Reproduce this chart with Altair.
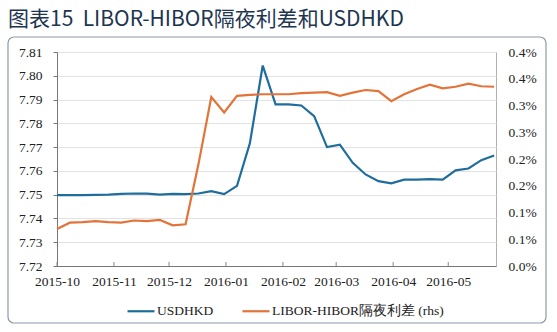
import altair as alt
import pandas as pd

title_text = "图表15\u00a0\u00a0LIBOR-HIBOR隔夜利差和USDHKD"

dates = [
    "2015-10-01", "2015-10-08", "2015-10-15", "2015-10-22", "2015-10-29",
    "2015-11-05", "2015-11-12", "2015-11-19", "2015-11-26",
    "2015-12-03", "2015-12-10", "2015-12-17", "2015-12-24", "2015-12-31",
    "2016-01-07", "2016-01-14", "2016-01-21", "2016-01-28",
    "2016-02-04", "2016-02-11", "2016-02-18", "2016-02-25",
    "2016-03-03", "2016-03-10", "2016-03-17", "2016-03-24", "2016-03-31",
    "2016-04-07", "2016-04-14", "2016-04-21", "2016-04-28",
    "2016-05-05", "2016-05-12", "2016-05-19", "2016-05-26",
]

usdhkd = [
    7.7498, 7.7498, 7.7498, 7.7499, 7.7500,
    7.7503, 7.7505, 7.7504, 7.7500,
    7.7503, 7.7502, 7.7505, 7.7515, 7.7502,
    7.7537, 7.7716, 7.8043, 7.7880,
    7.7880, 7.7875, 7.7830, 7.7700,
    7.7710, 7.7634, 7.7585, 7.7557, 7.7548,
    7.7563, 7.7563, 7.7565, 7.7563,
    7.7602, 7.7610, 7.7645, 7.7665,
]

# LIBOR-HIBOR overnight spread, in percent
spread = [
    0.069, 0.081, 0.082, 0.084, 0.082,
    0.081, 0.085, 0.084, 0.086,
    0.076, 0.078, 0.190, 0.316, 0.287,
    0.318, 0.320, 0.321, 0.321,
    0.321, 0.323, 0.324, 0.325,
    0.318, 0.324, 0.329, 0.327, 0.308,
    0.321, 0.331, 0.339, 0.332,
    0.335, 0.341, 0.336, 0.335,
]

series_names = ["USDHKD", "LIBOR-HIBOR隔夜利差 (rhs)"]
series_colors = ["#1f6d9c", "#e2743a"]

month_starts = ["2015-10-01", "2015-11-01", "2015-12-01", "2016-01-01",
                "2016-02-01", "2016-03-01", "2016-04-01", "2016-05-01"]

left_ticks = [7.72, 7.73, 7.74, 7.75, 7.76, 7.77, 7.78, 7.79, 7.80, 7.81]
right_ticks = [0.0, 0.05, 0.10, 0.15, 0.20, 0.25, 0.30, 0.35, 0.40]
right_labels = ["0.0%", "0.1%", "0.1%", "0.2%", "0.2%", "0.3%", "0.3%", "0.4%", "0.4%"]

x_domain = [int(pd.Timestamp("2015-10-01", tz="UTC").value // 10**6),
            int(pd.Timestamp("2016-05-27", tz="UTC").value // 10**6)]

W, H = 439, 214
SERIF = "Liberation Serif"
FS = 13.5

df_blue = pd.DataFrame({"date": dates, "value": usdhkd, "series": series_names[0]})
df_orange = pd.DataFrame({"date": dates, "value": spread, "series": series_names[1]})
df_months = pd.DataFrame({"date": month_starts})

xscale = alt.Scale(type="utc", domain=x_domain)

x_axis = alt.Axis(
    format="%Y-%m", tickCount={"interval": "month", "step": 1},
    labelFontSize=FS, tickSize=0, labelPadding=8, domainColor="#777",
    grid=False, labelFlush=False, labelOverlap=False,
)

color = alt.Color(
    "series:N",
    scale=alt.Scale(domain=series_names, range=series_colors),
    legend=alt.Legend(
        orient="none", legendX=69, legendY=244, direction="horizontal",
        title=None, symbolType="stroke", symbolSize=729, symbolStrokeWidth=2.2,
        labelFontSize=FS, labelOffset=1,
        labelLimit=400, columnPadding=24, padding=0,
    ),
)

box = alt.Chart(pd.DataFrame({"a": [0]})).mark_rect(
    filled=False, stroke="#8e9aa6", strokeWidth=1.2, cornerRadius=6
).encode(
    x=alt.value(-49), x2=alt.value(489), y=alt.value(-15), y2=alt.value(271)
)

title = alt.Chart(pd.DataFrame({"t": [title_text]})).mark_text(
    align="left", baseline="alphabetic", font="Noto Sans CJK SC",
    fontSize=21, color="#1d3550"
).encode(text="t:N", x=alt.value(-49), y=alt.value(-26))

ticks = alt.Chart(df_months).mark_rule(color="#888", strokeWidth=1).encode(
    x=alt.X("date:T", scale=xscale, axis=x_axis, title=None),
    y=alt.value(H - 4), y2=alt.value(H),
)

blue = alt.Chart(df_blue).mark_line(strokeWidth=2.2).encode(
    x=alt.X("date:T", scale=xscale, title=None, axis=x_axis),
    y=alt.Y(
        "value:Q", scale=alt.Scale(domain=[7.72, 7.81], zero=False, nice=False),
        title=None,
        axis=alt.Axis(
            values=left_ticks, format=".2f", labelFontSize=FS,
            tickSize=4, tickColor="#777", labelPadding=11,
            domainColor="#777", gridColor="#e2e2e2",
        ),
    ),
    color=color,
)

orange = alt.Chart(df_orange).mark_line(strokeWidth=2.2).encode(
    x=alt.X("date:T", scale=xscale, title=None, axis=x_axis),
    y=alt.Y(
        "value:Q", scale=alt.Scale(domain=[0, 0.4], nice=False), title=None,
        axis=alt.Axis(
            orient="right", values=right_ticks,
            labelExpr="[" + ",".join("'" + s + "'" for s in right_labels) + "][round(datum.value/0.05)]",
            labelFontSize=FS, tickSize=0, labelPadding=12, domain=False, grid=False,
        ),
    ),
    color=color,
)

chart = alt.layer(box, title, blue, orange, ticks).resolve_scale(
    y="independent"
).properties(
    width=W, height=H,
    autosize=alt.AutoSizeParams(type="none"),
    padding={"left": 57, "top": 52, "right": 61, "bottom": 66},
    background="white",
).configure_view(
    stroke="#b0b0b0", strokeWidth=1
).configure_axis(
    labelFont=SERIF, labelColor="#222"
).configure_legend(
    labelFont=SERIF, labelColor="#222"
)

chart.save("out.html", embed_options={"renderer": "svg", "actions": False})
